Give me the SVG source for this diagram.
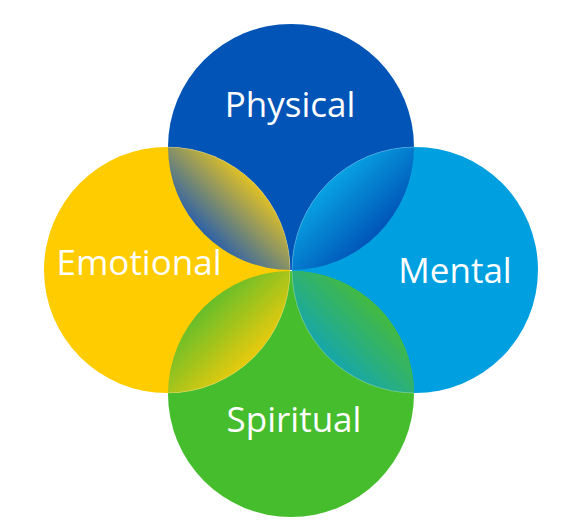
<svg xmlns="http://www.w3.org/2000/svg" width="578" height="531" viewBox="0 0 578 531">
  <style>
    .lbl { font-family: "Open Sans", "Noto Sans", "Liberation Sans", sans-serif; font-size: 35px; fill: #ffffff; text-anchor: middle; }
    .lens { stroke: #ffffff; stroke-opacity: 0.35; stroke-width: 0.8; }
  </style>
  <defs>
    <clipPath id="clipP"><circle cx="291" cy="147" r="123"/></clipPath>
    <clipPath id="clipS"><circle cx="291" cy="394" r="123"/></clipPath>
    <linearGradient id="gTL" gradientUnits="userSpaceOnUse" x1="204" y1="233" x2="254" y2="183">
      <stop offset="0" stop-color="#2F63A8"/>
      <stop offset="1" stop-color="#E2C124"/>
    </linearGradient>
    <linearGradient id="gTR" gradientUnits="userSpaceOnUse" x1="328" y1="183" x2="378" y2="233">
      <stop offset="0" stop-color="#08A2E3"/>
      <stop offset="1" stop-color="#0056B8"/>
    </linearGradient>
    <linearGradient id="gBL" gradientUnits="userSpaceOnUse" x1="204" y1="307" x2="254" y2="357">
      <stop offset="0" stop-color="#66BE2A"/>
      <stop offset="1" stop-color="#E8CA0C"/>
    </linearGradient>
    <linearGradient id="gBR" gradientUnits="userSpaceOnUse" x1="378" y1="307" x2="328" y2="357">
      <stop offset="0" stop-color="#44BA40"/>
      <stop offset="1" stop-color="#16A7AA"/>
    </linearGradient>
  </defs>

  <g id="node-physical">
    <circle cx="291" cy="147" r="123" fill="#0254B6"/>
  </g>
  <g id="node-mental">
    <circle cx="415" cy="270" r="123" fill="#00A0E0"/>
  </g>
  <g id="node-spiritual">
    <circle cx="291" cy="394" r="123" fill="#46BD2D"/>
  </g>
  <g id="node-emotional">
    <circle cx="167" cy="270" r="123" fill="#FFCC00"/>
  </g>

  <g id="overlaps">
    <circle class="lens" cx="167" cy="270" r="123" fill="url(#gTL)" clip-path="url(#clipP)"/>
    <circle class="lens" cx="415" cy="270" r="123" fill="url(#gTR)" clip-path="url(#clipP)"/>
    <circle class="lens" cx="167" cy="270" r="123" fill="url(#gBL)" clip-path="url(#clipS)"/>
    <circle class="lens" cx="415" cy="270" r="123" fill="url(#gBR)" clip-path="url(#clipS)"/>
  </g>

  <g id="labels">
    <text class="lbl" x="290" y="117">Physical</text>
    <text class="lbl" x="455" y="283">Mental</text>
    <text class="lbl" x="139" y="275">Emotional</text>
    <text class="lbl" x="294" y="432">Spiritual</text>
  </g>
  <g id="connectors"/>
</svg>
